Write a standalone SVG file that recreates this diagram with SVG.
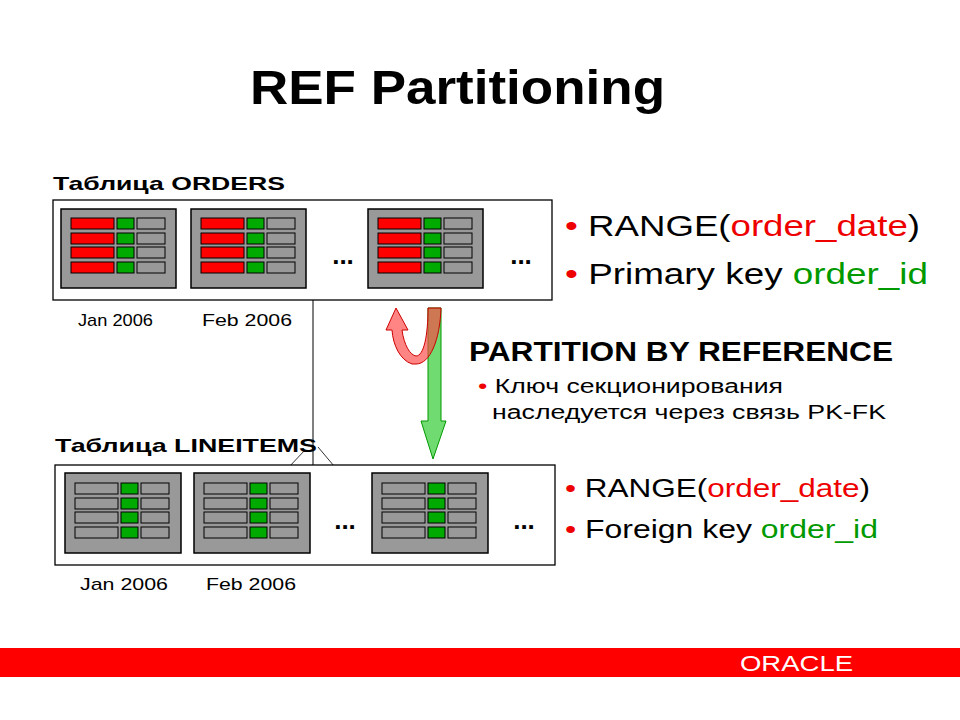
<svg xmlns="http://www.w3.org/2000/svg" width="960" height="720" viewBox="0 0 960 720">
<defs>
<style>
text{font-family:"Liberation Sans",Arial,sans-serif}
.part{fill:#999;stroke:#000;stroke-width:1.5}
.r{fill:#f00;stroke:#000;stroke-width:1}
.g{fill:#0a0;stroke:#000;stroke-width:1}
.y{fill:#999;stroke:#000;stroke-width:1}
.lbl{font-size:17px}
.box{fill:#fff;stroke:#000;stroke-width:1.3}
.big{font-size:30px}
.mid{font-size:26px}
</style>
<g id="rowO">
<rect class="r" x="0" y="0" width="43" height="11"/><rect class="g" x="46" y="0" width="17" height="11"/><rect class="y" x="66" y="0" width="28" height="11"/>
</g>
<g id="partO">
<rect class="part" x="0" y="0" width="115" height="79"/>
<use href="#rowO" x="10" y="9"/><use href="#rowO" x="10" y="24"/><use href="#rowO" x="10" y="38"/><use href="#rowO" x="10" y="53"/>
</g>
<g id="rowL">
<rect class="y" x="0" y="0" width="43" height="11"/><rect class="g" x="46" y="0" width="17" height="11"/><rect class="y" x="66" y="0" width="28" height="11"/>
</g>
<g id="partL">
<rect class="part" x="0" y="0" width="116" height="80"/>
<use href="#rowL" x="10" y="10"/><use href="#rowL" x="10" y="25"/><use href="#rowL" x="10" y="39"/><use href="#rowL" x="10" y="54"/>
</g>
</defs>
<rect width="960" height="720" fill="#fff"/>
<text x="250" y="104" font-size="48" font-weight="bold" textLength="415" lengthAdjust="spacingAndGlyphs">REF Partitioning</text>

<g id="connectors" stroke="#000" fill="none">
<line x1="313" y1="300" x2="313" y2="465"/>
<line x1="288" y1="468" x2="305" y2="450" stroke-width="0.8"/>
<line x1="318" y1="447" x2="334" y2="466" stroke-width="0.8"/>
</g>

<g id="orders">
<text x="53" y="190" font-size="19" font-weight="bold" textLength="232" lengthAdjust="spacingAndGlyphs">Таблица ORDERS</text>
<rect class="box" x="53" y="200" width="499" height="100"/>
<use href="#partO" x="61" y="209"/><use href="#partO" x="191" y="209"/><use href="#partO" x="368" y="209"/>
<text x="343" y="264" font-size="26" font-weight="bold" text-anchor="middle">...</text>
<text x="521" y="264" font-size="26" font-weight="bold" text-anchor="middle">...</text>
<text x="78" y="326" class="lbl" textLength="75" lengthAdjust="spacingAndGlyphs">Jan 2006</text>
<text x="202" y="326" class="lbl" textLength="90" lengthAdjust="spacingAndGlyphs">Feb 2006</text>
</g>

<g id="lineitems">
<text x="55" y="452" font-size="19" font-weight="bold" textLength="262" lengthAdjust="spacingAndGlyphs">Таблица LINEITEMS</text>
<rect class="box" x="55" y="465" width="500" height="100"/>
<use href="#partL" x="65" y="473"/><use href="#partL" x="194" y="473"/><use href="#partL" x="372" y="473"/>
<text x="345" y="529" font-size="26" font-weight="bold" text-anchor="middle">...</text>
<text x="524" y="529" font-size="26" font-weight="bold" text-anchor="middle">...</text>
<text x="80" y="590" class="lbl" textLength="88" lengthAdjust="spacingAndGlyphs">Jan 2006</text>
<text x="206" y="590" class="lbl" textLength="90" lengthAdjust="spacingAndGlyphs">Feb 2006</text>
</g>

<g id="arrows">
<path d="M428,308 H441 V421 H446 L433,459 L421,421 H428 Z" fill="#3c3" fill-opacity="0.7" stroke="#090" stroke-width="1"/>
<path d="M428,308 H441 C440,340 430,364 416,364 H412 C400,360 393,345 392,330 H386 L396,308 L408,330 H402 C404,345 410,355 416,356 C424,356 428,335 428,308 Z" fill="#f44" fill-opacity="0.65" stroke="#c00" stroke-width="1"/>
</g>

<g id="text-orders">
<text x="565" y="236" class="big" textLength="355" lengthAdjust="spacingAndGlyphs"><tspan fill="#e00">•</tspan> RANGE(<tspan fill="#e00">order_date</tspan>)</text>
<text x="565" y="284" class="big" textLength="363" lengthAdjust="spacingAndGlyphs"><tspan fill="#e00">•</tspan> Primary key <tspan fill="#090">order_id</tspan></text>
</g>
<g id="text-ref">
<text x="469" y="361" font-size="27" font-weight="bold" textLength="424" lengthAdjust="spacingAndGlyphs">PARTITION BY REFERENCE</text>
<text x="478" y="393" font-size="20" textLength="305" lengthAdjust="spacingAndGlyphs"><tspan fill="#e00">•</tspan>  Ключ секционирования</text>
<text x="492" y="419" font-size="20" textLength="394" lengthAdjust="spacingAndGlyphs">наследуется через связь PK-FK</text>
</g>
<g id="text-lineitems">
<text x="565" y="497" class="mid" textLength="305" lengthAdjust="spacingAndGlyphs"><tspan fill="#e00">•</tspan> RANGE(<tspan fill="#e00">order_date</tspan>)</text>
<text x="565" y="538" class="mid" textLength="313" lengthAdjust="spacingAndGlyphs"><tspan fill="#e00">•</tspan> Foreign key <tspan fill="#090">order_id</tspan></text>
</g>

<g id="footer">
<rect x="0" y="648" width="960" height="29" fill="#f00"/>
<text x="740" y="671" font-size="22" fill="#fff" textLength="113" lengthAdjust="spacingAndGlyphs">ORACLE</text>
</g>
</svg>
